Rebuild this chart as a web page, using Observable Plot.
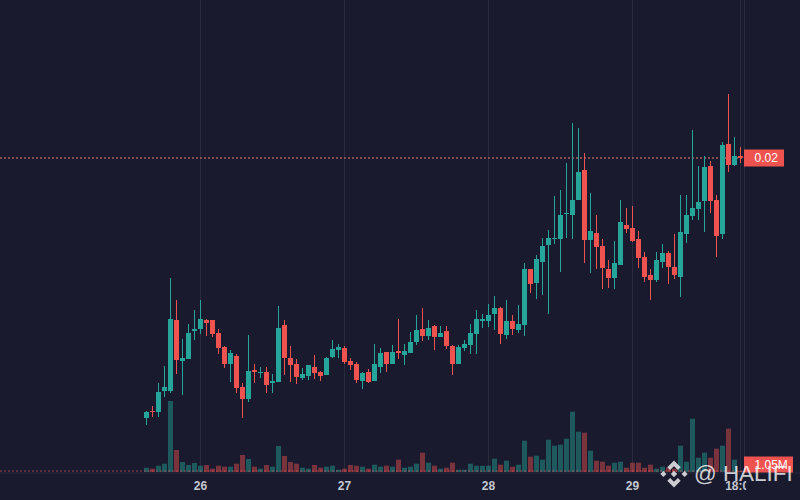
<!DOCTYPE html>
<html>
<head>
<meta charset="utf-8">
<script src="https://cdn.jsdelivr.net/npm/d3@7"></script>
<script src="https://cdn.jsdelivr.net/npm/@observablehq/plot@0.6"></script>
<style>
html,body{margin:0;padding:0;background:#191a2e;overflow:hidden}
#wrap{position:relative;width:800px;height:500px}
#wm{position:absolute;left:660px;top:460px;height:28px;display:flex;align-items:center;color:#fff;opacity:.78;pointer-events:none}
#wm span{font:22.4px "Liberation Sans",sans-serif;margin-left:6px;white-space:nowrap}
</style>
</head>
<body>
<div id="wrap"><div id="chart"></div>
<div id="wm"><svg width="28" height="28" viewBox="-11.5 -11.5 23 23"><g fill="#fff"><path d="M-5.5-5.5 0-11 5.5-5.5 3.2-3.2 0-6.4-3.2-3.2Z"/><path d="M-5.5 5.5 0 11 5.5 5.5 3.2 3.2 0 6.4-3.2 3.2Z"/><path d="M-8.2 0-5.7-2.5-3.2 0-5.7 2.5Z" transform="translate(-3 0)"/><path d="M8.2 0 5.7-2.5 3.2 0 5.7 2.5Z" transform="translate(3 0)"/><path d="M0-2.6 2.6 0 0 2.6-2.6 0Z"/></g></svg><span>@ HALIFI</span></div>
</div>
<script>
// Prices in ticks of 0.00005, hourly candles from the 25th 15:00
const open =  [82,89,88,109,109,180,139,141,169,171,180,180,167,153,136,144,113,101,130,127,128,117,118,175,142,136,122,124,133,128,125,143,150,152,139,136,119,128,119,133,148,136,149,145,147,158,171,164,174,163,169,154,136,152,155,166,179,179,186,192,165,179,170,175,231,217,238,255,261,261,286,285,300,330,260,267,254,231,222,235,275,272,261,243,225,220,238,247,233,223,266,284,291,299,334,300,266,356,335,344];
const close = [88,88,108,113,181,140,142,167,171,181,177,166,152,136,147,112,101,129,128,128,115,119,172,142,135,123,126,135,127,124,142,151,153,138,135,120,127,118,136,147,136,148,147,149,158,170,164,172,163,167,154,136,153,156,167,181,181,185,192,166,179,171,176,231,216,241,254,262,262,285,287,300,328,260,269,253,232,222,237,278,271,259,242,223,220,240,247,233,225,268,285,292,298,333,299,264,355,335,344,342];
const high =  [89,94,117,134,222,200,161,176,190,200,181,180,171,154,150,146,117,165,136,133,133,126,194,180,154,141,132,135,145,129,143,160,156,154,142,138,128,131,156,152,148,155,181,156,168,185,192,180,175,174,174,155,155,160,176,190,186,196,204,193,200,185,195,237,231,245,262,270,304,310,337,377,372,347,307,285,261,240,259,300,292,294,269,248,231,248,256,249,266,305,305,370,334,344,339,305,358,406,363,353];
const low =   [75,83,83,103,107,126,105,141,160,166,164,163,146,132,118,107,82,98,117,122,107,107,118,125,118,116,120,120,121,119,125,142,142,136,130,117,111,117,119,127,128,136,141,135,147,155,159,160,150,163,151,125,136,149,146,146,172,173,170,156,161,165,167,164,207,201,205,186,256,228,262,261,300,237,227,231,211,212,211,235,267,258,232,218,200,218,232,216,221,203,257,280,280,268,287,243,261,328,334,337];
const volume =[4.3,3.3,6.3,8.3,71,22,10,7,9,6.3,7,3.3,6.3,5.3,5.3,8.3,17,13,5.3,3.3,7,5.3,26,16,10,8.3,4.3,3.3,7,4.3,5.3,6.3,2.3,3.3,7,6.3,5.3,3.3,7.3,5.3,6.3,5.3,12.3,4.3,5.3,8.3,19.3,9.3,6.3,3.3,4.3,9.3,2.3,2.3,8.3,6.3,6.3,6.3,13.3,7.3,11.3,5.3,7.3,31.3,15.3,16.3,12.3,32.3,26.3,27.3,33.3,60.3,40.3,39.3,21.3,11.3,10.3,6.3,9.3,10.3,4.3,9.3,9.3,4.3,7.3,3.3,5.3,4.3,3.3,26.3,10.3,53.3,14.3,19.3,14.3,23.3,26.3,43.3,12.3,1.05];
const lastPrice = 342.5, lastPriceLabel = "0.02", lastVolumeLabel = "1.05M";
const tickDates = ["2024-03-26T00:00Z","2024-03-27T00:00Z","2024-03-28T00:00Z","2024-03-29T00:00Z","2024-03-29T18:00Z"];
const tickLabels = ["26","27","28","29","18:00"];

const HOUR = 36e5, t0 = Date.parse("2024-03-25T15:00Z");
const volBase = 28;
const rows = open.map((o,i)=>({t:new Date(t0+i*HOUR),o,c:close[i],h:high[i],l:low[i],v:volume[i],up:close[i]>=o}));
const ticks = tickDates.map((d,i)=>({t:new Date(d),label:tickLabels[i]}));
const UP="#26a69a", DOWN="#ef5350", BG="#191a2e", GRID="#2a2b3e";
const font='"Liberation Sans",sans-serif';

const plot = Plot.plot({
  width:800,height:500,margin:0,
  style:{background:BG,fontFamily:font},
  x:{type:"utc",domain:[new Date(t0-146/6*HOUR),new Date(t0+(800-146)/6*HOUR)],range:[0,800],axis:null},
  y:{type:"linear",domain:[0,500],range:[500,0],axis:null},
  marks:[
    Plot.ruleX(ticks,{x:"t",y1:28,y2:500,stroke:GRID,strokeWidth:1}),
    Plot.ruleX([0],{x:()=>new Date(t0+(744-146)/6*HOUR),y1:28,y2:500,stroke:GRID,strokeWidth:1}),
    Plot.ruleY([27.5],{stroke:GRID,strokeWidth:1}),
    Plot.ruleX(rows,{x:"t",y1:volBase,y2:d=>volBase+d.v,stroke:d=>d.up?UP:DOWN,strokeOpacity:.45,strokeWidth:5}),
    Plot.ruleY([lastPrice],{stroke:"#f47c74",strokeWidth:1,strokeDasharray:"2,2",insetRight:56}),
    Plot.ruleY([volBase+1.5],{stroke:DOWN,strokeOpacity:.6,strokeWidth:1,strokeDasharray:"2,2",insetRight:56}),
    Plot.ruleX(rows,{x:"t",y1:"l",y2:"h",stroke:d=>d.up?UP:DOWN,strokeWidth:1}),
    Plot.ruleX(rows,{x:"t",y1:d=>Math.min(d.o,d.c),y2:d=>Math.max(d.o,d.c),stroke:d=>d.up?UP:DOWN,strokeWidth:5}),
    Plot.ruleY([lastPrice],{stroke:DOWN,strokeWidth:17,insetLeft:744,insetRight:16}),
    Plot.ruleY([36],{stroke:DOWN,strokeWidth:16,insetLeft:744,insetRight:7}),
    Plot.text([lastPriceLabel],{text:d=>d,frameAnchor:"left",dx:754,y:[lastPrice-.5],fill:"#fff",fontSize:12}),
    Plot.text([lastVolumeLabel],{text:d=>d,frameAnchor:"left",dx:754,y:[35.5],fill:"#fff",fontSize:12}),
    Plot.text(ticks,{x:"t",y:[14,14,14,14,14],text:"label",fill:"#c4c7d0",fontSize:12,fontWeight:"bold"})
  ]
});
document.getElementById("chart").appendChild(plot);
plot.querySelectorAll("text").forEach(t=>{ if(t.textContent==="18:00") t.style.clipPath="inset(-5px 10px -5px -5px)"; });
</script>
</body>
</html>
